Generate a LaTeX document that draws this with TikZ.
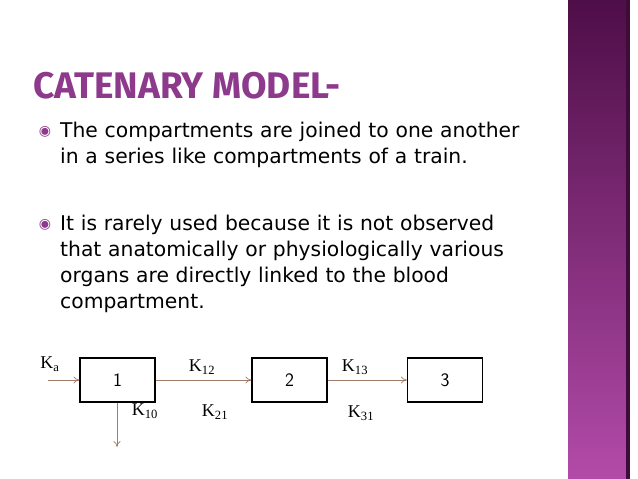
\documentclass[tikz,border=0pt]{standalone}
\usepackage{fontspec}
\setmainfont{Liberation Serif}
\newfontfamily\bodyf{DejaVu Sans}
\newfontfamily\titlef{Fira Sans}
\definecolor{tpurple}{HTML}{8E3A8C}
\definecolor{barTop}{HTML}{4E0E48}
\definecolor{barBot}{HTML}{B24BA8}
\definecolor{arr}{HTML}{A07B6A}
\usetikzlibrary{arrows.meta}
\tikzset{
  box/.style={draw=black,line width=1.1pt,minimum width=75pt,minimum height=44pt,inner sep=0pt,font=\fontsize{19}{19}\selectfont\sffamily},
  flow/.style={draw=arr,line width=0.7pt,-{To[length=6pt,width=7pt]}},
  klab/.style={font=\fontsize{18}{18}\selectfont,inner sep=0pt},
  body/.style={anchor=north west,align=left,inner sep=0pt,font=\bodyf\fontsize{20.3}{26}\selectfont,text width=500pt},
  bul/.style={text=tpurple,font=\bodyf\fontsize{14}{14}\selectfont,inner sep=0pt}
}
\begin{document}
\begin{tikzpicture}[x=1pt,y=-1pt]
\useasboundingbox (0,0) rectangle (638,479);
\fill[white] (0,0) rectangle (638,479);
\shade[top color=barTop,bottom color=barBot] (568,0) rectangle (626,479);
\fill[barTop!80!black] (626,0) rectangle (630,479);
\node[anchor=base west,inner sep=0pt,text=tpurple,font=\titlef\bfseries\fontsize{37}{37}\selectfont] (title) at (33,98) {CATENARY MODEL-};
\node[bul] (b1) at (45,132) {◉};
\node[body] (t1) at (60,122) {The compartments are joined to one another\\in a series like compartments of a train.};
\node[bul] (b2) at (45,225) {◉};
\node[body] (t2) at (60,215) {It is rarely used because it is not observed\\that anatomically or physiologically various\\organs are directly linked to the blood\\compartment.};
\node[box] (c1) at (117.5,380) {1};
\node[box] (c2) at (289.5,380) {2};
\node[box] (c3) at (445,380) {3};
\coordinate (in) at (48,380);
\coordinate (out) at (117,447);
\draw[flow] (in) -- (c1.west);
\draw[flow] (c1.east) -- (c2.west);
\draw[flow] (c2.east) -- (c3.west);
\draw[flow] (c1.south -| out) -- (out);
\node[klab] (ka) at (50,364) {K\textsubscript{a}};
\node[klab] (k12) at (202,367) {K\textsubscript{12}};
\node[klab] (k13) at (355,367) {K\textsubscript{13}};
\node[klab] (k10) at (145,411) {K\textsubscript{10}};
\node[klab] (k21) at (215,412) {K\textsubscript{21}};
\node[klab] (k31) at (361,413) {K\textsubscript{31}};
\end{tikzpicture}
\end{document}
